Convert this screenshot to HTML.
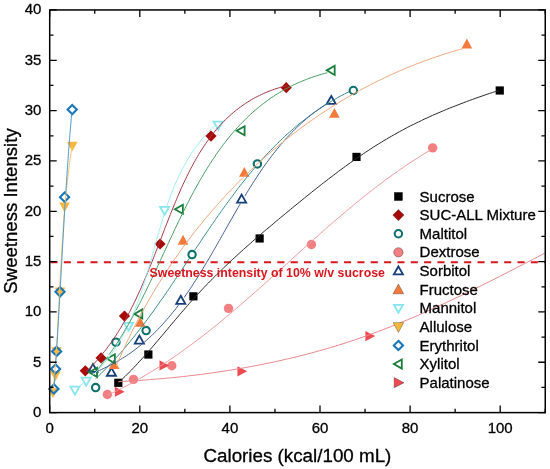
<!DOCTYPE html>
<html><head><meta charset="utf-8"><style>html,body{margin:0;padding:0;background:#fff;}svg{display:block;filter:blur(0.3px);}</style></head><body>
<svg width="550" height="469" viewBox="0 0 550 469">
<rect width="550" height="469" fill="#fff"/>
<line x1="50.46" y1="262.3" x2="545.25" y2="262.3" stroke="#d9161d" stroke-width="2" stroke-dasharray="7.1 6.244"/>
<rect x="114.21" y="378.70" width="8.2" height="8.2" fill="#000000"/>
<rect x="144.26" y="350.42" width="8.2" height="8.2" fill="#000000"/>
<rect x="189.31" y="292.24" width="8.2" height="8.2" fill="#000000"/>
<rect x="255.53" y="234.36" width="8.2" height="8.2" fill="#000000"/>
<rect x="352.39" y="152.82" width="8.2" height="8.2" fill="#000000"/>
<rect x="495.65" y="86.39" width="8.2" height="8.2" fill="#000000"/>
<polygon points="85.29,365.23 90.89,370.83 85.29,376.43 79.69,370.83" fill="#a80a0a"/>
<polygon points="101.06,352.34 106.66,357.94 101.06,363.54 95.46,357.94" fill="#a80a0a"/>
<polygon points="124.48,310.47 130.08,316.07 124.48,321.67 118.88,316.07" fill="#a80a0a"/>
<polygon points="160.07,238.39 165.67,243.99 160.07,249.59 154.47,243.99" fill="#a80a0a"/>
<polygon points="210.98,130.49 216.58,136.09 210.98,141.69 205.38,136.09" fill="#a80a0a"/>
<polygon points="286.21,82.07 291.81,87.67 286.21,93.27 280.61,87.67" fill="#a80a0a"/>
<circle cx="95.65" cy="387.54" r="3.7" fill="none" stroke="#0e716c" stroke-width="2.1"/>
<circle cx="115.92" cy="342.14" r="3.7" fill="none" stroke="#0e716c" stroke-width="2.1"/>
<circle cx="146.11" cy="330.56" r="3.7" fill="none" stroke="#0e716c" stroke-width="2.1"/>
<circle cx="192.06" cy="254.56" r="3.7" fill="none" stroke="#0e716c" stroke-width="2.1"/>
<circle cx="257.38" cy="163.97" r="3.7" fill="none" stroke="#0e716c" stroke-width="2.1"/>
<circle cx="353.34" cy="90.49" r="3.7" fill="none" stroke="#0e716c" stroke-width="2.1"/>
<circle cx="107.36" cy="394.48" r="4.7" fill="#f27f82"/>
<circle cx="133.49" cy="379.38" r="4.7" fill="#f27f82"/>
<circle cx="171.79" cy="365.79" r="4.7" fill="#f27f82"/>
<circle cx="228.55" cy="308.42" r="4.7" fill="#f27f82"/>
<circle cx="311.44" cy="244.50" r="4.7" fill="#f27f82"/>
<circle cx="432.62" cy="147.86" r="4.7" fill="#f27f82"/>
<polygon points="92.95,363.96 97.50,371.92 88.40,371.92" fill="none" stroke="#163f7a" stroke-width="1.8" stroke-linejoin="miter"/>
<polygon points="111.42,367.79 115.97,375.75 106.87,375.75" fill="none" stroke="#163f7a" stroke-width="1.8" stroke-linejoin="miter"/>
<polygon points="139.35,335.57 143.90,343.54 134.80,343.54" fill="none" stroke="#163f7a" stroke-width="1.8" stroke-linejoin="miter"/>
<polygon points="180.80,295.81 185.35,303.78 176.25,303.78" fill="none" stroke="#163f7a" stroke-width="1.8" stroke-linejoin="miter"/>
<polygon points="241.61,194.65 246.16,202.61 237.06,202.61" fill="none" stroke="#163f7a" stroke-width="1.8" stroke-linejoin="miter"/>
<polygon points="331.26,96.00 335.81,103.97 326.71,103.97" fill="none" stroke="#163f7a" stroke-width="1.8" stroke-linejoin="miter"/>
<polygon points="114.12,359.19 119.42,368.99 108.82,368.99" fill="#f47a3c"/>
<polygon points="140.25,316.91 145.55,326.71 134.95,326.71" fill="#f47a3c"/>
<polygon points="183.05,234.87 188.35,244.67 177.75,244.67" fill="#f47a3c"/>
<polygon points="244.32,166.93 249.62,176.73 239.02,176.73" fill="#f47a3c"/>
<polygon points="334.42,108.04 339.72,117.84 329.12,117.84" fill="#f47a3c"/>
<polygon points="466.86,38.58 472.16,48.38 461.56,48.38" fill="#f47a3c"/>
<polygon points="74.93,394.60 79.48,386.64 70.38,386.64" fill="none" stroke="#86e6ec" stroke-width="1.8" stroke-linejoin="miter"/>
<polygon points="86.19,385.64 90.74,377.68 81.64,377.68" fill="none" stroke="#86e6ec" stroke-width="1.8" stroke-linejoin="miter"/>
<polygon points="128.54,330.78 133.09,322.82 123.99,322.82" fill="none" stroke="#86e6ec" stroke-width="1.8" stroke-linejoin="miter"/>
<polygon points="164.58,214.82 169.13,206.86 160.03,206.86" fill="none" stroke="#86e6ec" stroke-width="1.8" stroke-linejoin="miter"/>
<polygon points="218.19,129.67 222.74,121.70 213.64,121.70" fill="none" stroke="#86e6ec" stroke-width="1.8" stroke-linejoin="miter"/>
<polygon points="52.99,398.07 58.29,388.27 47.69,388.27" fill="#f6b73c"/>
<polygon points="55.42,381.16 60.72,371.36 50.12,371.36" fill="#f6b73c"/>
<polygon points="56.64,357.00 61.94,347.20 51.34,347.20" fill="#f6b73c"/>
<polygon points="60.02,297.41 65.32,287.61 54.72,287.61" fill="#f6b73c"/>
<polygon points="64.57,212.35 69.87,202.55 59.27,202.55" fill="#f6b73c"/>
<polygon points="72.22,151.45 77.52,141.65 66.92,141.65" fill="#f6b73c"/>
<polygon points="53.93,384.34 58.53,388.94 53.93,393.54 49.33,388.94" fill="none" stroke="#1a76b8" stroke-width="2.1"/>
<polygon points="55.56,364.41 60.16,369.01 55.56,373.61 50.96,369.01" fill="none" stroke="#1a76b8" stroke-width="2.1"/>
<polygon points="56.64,346.80 61.24,351.40 56.64,356.00 52.04,351.40" fill="none" stroke="#1a76b8" stroke-width="2.1"/>
<polygon points="60.02,287.21 64.62,291.81 60.02,296.41 55.42,291.81" fill="none" stroke="#1a76b8" stroke-width="2.1"/>
<polygon points="64.57,192.59 69.17,197.19 64.57,201.79 59.97,197.19" fill="none" stroke="#1a76b8" stroke-width="2.1"/>
<polygon points="72.22,105.01 76.82,109.61 72.22,114.21 67.62,109.61" fill="none" stroke="#1a76b8" stroke-width="2.1"/>
<polygon points="89.07,372.34 97.04,367.79 97.04,376.89" fill="none" stroke="#1b7d3c" stroke-width="1.8" stroke-linejoin="miter"/>
<polygon points="106.87,358.75 114.83,354.20 114.83,363.30" fill="none" stroke="#1b7d3c" stroke-width="1.8" stroke-linejoin="miter"/>
<polygon points="134.35,313.95 142.31,309.40 142.31,318.50" fill="none" stroke="#1b7d3c" stroke-width="1.8" stroke-linejoin="miter"/>
<polygon points="174.89,209.27 182.86,204.72 182.86,213.82" fill="none" stroke="#1b7d3c" stroke-width="1.8" stroke-linejoin="miter"/>
<polygon points="236.61,130.75 244.58,126.20 244.58,135.30" fill="none" stroke="#1b7d3c" stroke-width="1.8" stroke-linejoin="miter"/>
<polygon points="326.71,70.36 334.68,65.81 334.68,74.91" fill="none" stroke="#1b7d3c" stroke-width="1.8" stroke-linejoin="miter"/>
<polygon points="124.68,391.76 114.88,386.66 114.88,396.86" fill="#ef4a52"/>
<polygon points="169.28,365.39 159.48,360.29 159.48,370.49" fill="#ef4a52"/>
<polygon points="247.21,371.33 237.41,366.23 237.41,376.43" fill="#ef4a52"/>
<polygon points="375.16,336.10 365.36,331.00 365.36,341.20" fill="#ef4a52"/>
<g fill="none" stroke-width="1">
<path d="M118.4,382.8 L120.6,380.7 L122.8,378.6 L125.0,376.5 L127.2,374.3 L129.3,372.2 L131.5,370.0 L133.6,367.8 L135.7,365.6 L137.7,363.4 L139.8,361.1 L141.9,358.9 L143.9,356.6 L145.9,354.3 L147.9,352.0 L150.0,349.7 L152.0,347.4 L154.0,345.1 L155.9,342.8 L157.9,340.5 L159.9,338.1 L161.9,335.8 L163.8,333.5 L165.8,331.1 L167.8,328.8 L169.7,326.4 L171.7,324.1 L173.7,321.7 L175.6,319.4 L177.6,317.1 L179.6,314.7 L181.6,312.4 L183.6,310.1 L185.6,307.8 L187.6,305.5 L189.6,303.2 L191.6,300.9 L193.7,298.6 L195.7,296.4 L197.8,294.1 L199.9,291.9 L202.0,289.7 L204.1,287.4 L206.2,285.2 L208.3,283.1 L210.5,280.9 L212.6,278.7 L214.8,276.6 L216.9,274.4 L219.1,272.3 L221.3,270.1 L223.5,268.0 L225.7,265.9 L227.9,263.8 L230.1,261.7 L232.4,259.6 L234.6,257.6 L236.9,255.5 L239.1,253.4 L241.4,251.4 L243.7,249.3 L245.9,247.3 L248.2,245.3 L250.5,243.3 L252.8,241.2 L255.1,239.2 L257.4,237.2 L259.7,235.2 L262.1,233.2 L264.4,231.2 L266.7,229.2 L269.1,227.3 L271.4,225.3 L273.8,223.3 L276.1,221.3 L278.5,219.4 L280.8,217.4 L283.2,215.5 L285.5,213.5 L287.9,211.6 L290.3,209.6 L292.6,207.7 L295.0,205.7 L297.4,203.8 L299.8,201.8 L302.1,199.9 L304.5,198.0 L306.9,196.0 L309.3,194.1 L311.7,192.2 L314.1,190.3 L316.5,188.4 L318.9,186.5 L321.3,184.6 L323.7,182.7 L326.2,180.8 L328.6,178.9 L331.0,177.1 L333.5,175.2 L335.9,173.4 L338.3,171.5 L340.8,169.7 L343.3,167.9 L345.7,166.1 L348.2,164.3 L350.7,162.5 L353.2,160.8 L355.7,159.0 L358.2,157.3 L360.7,155.6 L363.3,153.8 L365.8,152.1 L368.3,150.5 L370.9,148.8 L373.4,147.1 L376.0,145.5 L378.6,143.9 L381.2,142.3 L383.8,140.7 L386.4,139.2 L389.0,137.6 L391.7,136.1 L394.3,134.6 L397.0,133.1 L399.6,131.6 L402.3,130.2 L405.0,128.7 L407.7,127.3 L410.4,125.9 L413.2,124.6 L415.9,123.2 L418.6,121.9 L421.4,120.6 L424.1,119.2 L426.9,118.0 L429.7,116.7 L432.5,115.4 L435.3,114.2 L438.1,113.0 L440.9,111.8 L443.7,110.6 L446.5,109.4 L449.4,108.2 L452.2,107.1 L455.1,106.0 L457.9,104.9 L460.8,103.8 L463.7,102.7 L466.5,101.6 L469.4,100.5 L472.3,99.5 L475.2,98.4 L478.1,97.4 L481.0,96.4 L483.9,95.4 L486.8,94.4 L489.7,93.4 L492.6,92.5 L495.6,91.5 L498.5,90.6" stroke="#2a2a2a"/>
<path d="M86.3,371.5 L87.9,369.9 L89.5,368.3 L91.1,366.7 L92.7,365.1 L94.2,363.5 L95.7,361.8 L97.2,360.2 L98.7,358.5 L100.1,356.8 L101.5,355.1 L102.9,353.4 L104.3,351.6 L105.7,349.9 L107.0,348.1 L108.4,346.3 L109.7,344.5 L111.0,342.7 L112.2,340.9 L113.5,339.1 L114.7,337.2 L116.0,335.4 L117.2,333.5 L118.4,331.6 L119.5,329.7 L120.7,327.8 L121.8,325.9 L123.0,323.9 L124.1,322.0 L125.2,320.1 L126.3,318.1 L127.3,316.1 L128.4,314.1 L129.5,312.2 L130.5,310.2 L131.5,308.1 L132.5,306.1 L133.5,304.1 L134.5,302.1 L135.5,300.0 L136.5,298.0 L137.4,295.9 L138.4,293.9 L139.3,291.8 L140.3,289.7 L141.2,287.6 L142.1,285.5 L143.0,283.4 L143.9,281.3 L144.8,279.2 L145.7,277.1 L146.6,275.0 L147.5,272.9 L148.4,270.7 L149.2,268.6 L150.1,266.5 L151.0,264.3 L151.8,262.2 L152.7,260.0 L153.5,257.9 L154.4,255.7 L155.2,253.5 L156.0,251.4 L156.9,249.2 L157.7,247.1 L158.6,244.9 L159.4,242.7 L160.2,240.6 L161.1,238.4 L161.9,236.2 L162.7,234.0 L163.6,231.9 L164.4,229.7 L165.2,227.5 L166.1,225.4 L166.9,223.2 L167.8,221.0 L168.6,218.8 L169.5,216.7 L170.3,214.5 L171.2,212.3 L172.1,210.2 L172.9,208.0 L173.8,205.9 L174.7,203.7 L175.6,201.6 L176.5,199.4 L177.4,197.3 L178.3,195.2 L179.2,193.1 L180.1,191.0 L181.0,188.8 L182.0,186.7 L182.9,184.7 L183.9,182.6 L184.9,180.5 L185.9,178.4 L186.9,176.4 L187.9,174.3 L188.9,172.3 L189.9,170.3 L190.9,168.3 L192.0,166.3 L193.1,164.3 L194.2,162.3 L195.3,160.4 L196.4,158.4 L197.5,156.5 L198.6,154.5 L199.8,152.6 L201.0,150.8 L202.2,148.9 L203.4,147.0 L204.6,145.2 L205.8,143.4 L207.1,141.6 L208.4,139.8 L209.7,138.0 L211.0,136.2 L212.3,134.5 L213.7,132.8 L215.1,131.1 L216.5,129.4 L217.9,127.8 L219.3,126.1 L220.8,124.5 L222.3,122.9 L223.8,121.4 L225.3,119.8 L226.9,118.3 L228.5,116.8 L230.1,115.4 L231.7,113.9 L233.4,112.5 L235.1,111.1 L236.8,109.7 L238.5,108.4 L240.3,107.1 L242.1,105.8 L243.9,104.5 L245.7,103.3 L247.6,102.1 L249.5,100.9 L251.4,99.7 L253.4,98.6 L255.4,97.5 L257.4,96.5 L259.5,95.4 L261.6,94.4 L263.7,93.5 L265.8,92.5 L268.0,91.6 L270.2,90.8 L272.5,89.9 L274.8,89.1 L277.1,88.4 L279.5,87.6 L281.8,86.9 L284.3,86.3 L286.7,85.7" stroke="#a03a44"/>
<mask id="gap_mal" maskUnits="userSpaceOnUse" x="0" y="0" width="550" height="469"><rect width="550" height="469" fill="#fff"/><circle cx="95.65" cy="387.54" r="4.6" fill="#000"/><circle cx="115.92" cy="342.14" r="4.6" fill="#000"/><circle cx="146.11" cy="330.56" r="4.6" fill="#000"/><circle cx="192.06" cy="254.56" r="4.6" fill="#000"/><circle cx="257.38" cy="163.97" r="4.6" fill="#000"/><circle cx="353.34" cy="90.49" r="4.6" fill="#000"/></mask>
<path d="M95.7,378.6 L97.5,377.0 L99.2,375.3 L101.0,373.6 L102.7,371.9 L104.4,370.2 L106.1,368.4 L107.8,366.7 L109.5,364.9 L111.2,363.2 L112.8,361.4 L114.5,359.6 L116.1,357.8 L117.7,356.0 L119.4,354.2 L121.0,352.4 L122.6,350.5 L124.1,348.7 L125.7,346.8 L127.3,344.9 L128.9,343.1 L130.4,341.2 L131.9,339.3 L133.5,337.4 L135.0,335.5 L136.5,333.5 L138.0,331.6 L139.5,329.7 L141.0,327.7 L142.5,325.8 L144.0,323.8 L145.5,321.9 L147.0,319.9 L148.4,317.9 L149.9,315.9 L151.3,313.9 L152.8,312.0 L154.2,310.0 L155.6,307.9 L157.1,305.9 L158.5,303.9 L159.9,301.9 L161.3,299.9 L162.8,297.8 L164.2,295.8 L165.6,293.8 L167.0,291.7 L168.4,289.7 L169.8,287.6 L171.2,285.6 L172.5,283.5 L173.9,281.5 L175.3,279.4 L176.7,277.4 L178.1,275.3 L179.5,273.2 L180.8,271.2 L182.2,269.1 L183.6,267.0 L185.0,265.0 L186.3,262.9 L187.7,260.8 L189.1,258.8 L190.5,256.7 L191.8,254.6 L193.2,252.6 L194.6,250.5 L195.9,248.4 L197.3,246.3 L198.7,244.3 L200.1,242.2 L201.5,240.2 L202.8,238.1 L204.2,236.0 L205.6,234.0 L207.0,231.9 L208.4,229.9 L209.8,227.8 L211.2,225.8 L212.6,223.7 L214.0,221.7 L215.4,219.6 L216.8,217.6 L218.2,215.6 L219.7,213.6 L221.1,211.5 L222.5,209.5 L223.9,207.5 L225.4,205.5 L226.8,203.5 L228.3,201.5 L229.7,199.5 L231.2,197.6 L232.7,195.6 L234.2,193.6 L235.6,191.6 L237.1,189.7 L238.6,187.7 L240.1,185.8 L241.6,183.9 L243.2,181.9 L244.7,180.0 L246.2,178.1 L247.8,176.2 L249.3,174.3 L250.9,172.4 L252.4,170.6 L254.0,168.7 L255.6,166.8 L257.2,165.0 L258.8,163.1 L260.4,161.3 L262.1,159.5 L263.7,157.7 L265.4,155.9 L267.0,154.1 L268.7,152.3 L270.4,150.6 L272.1,148.8 L273.8,147.1 L275.5,145.3 L277.2,143.6 L279.0,141.9 L280.7,140.2 L282.5,138.6 L284.2,136.9 L286.0,135.2 L287.8,133.6 L289.7,132.0 L291.5,130.4 L293.3,128.8 L295.2,127.2 L297.1,125.6 L299.0,124.0 L300.9,122.5 L302.8,121.0 L304.7,119.5 L306.7,118.0 L308.6,116.5 L310.6,115.0 L312.6,113.6 L314.6,112.2 L316.7,110.7 L318.7,109.3 L320.8,108.0 L322.9,106.6 L325.0,105.2 L327.1,103.9 L329.2,102.6 L331.4,101.3 L333.5,100.0 L335.7,98.8 L337.9,97.5 L340.1,96.3 L342.4,95.1 L344.6,93.9 L346.9,92.8 L349.2,91.6 L351.5,90.5 L353.9,89.4" stroke="#3a8a86" mask="url(#gap_mal)"/>
<path d="M107.7,395.1 L110.0,394.0 L112.3,392.9 L114.7,391.8 L117.0,390.6 L119.3,389.5 L121.6,388.3 L123.9,387.2 L126.2,386.0 L128.4,384.8 L130.7,383.6 L132.9,382.4 L135.2,381.1 L137.4,379.9 L139.6,378.6 L141.9,377.3 L144.1,376.1 L146.3,374.8 L148.4,373.4 L150.6,372.1 L152.8,370.8 L155.0,369.5 L157.1,368.1 L159.3,366.7 L161.4,365.4 L163.6,364.0 L165.7,362.6 L167.8,361.2 L169.9,359.7 L172.0,358.3 L174.1,356.9 L176.2,355.4 L178.3,354.0 L180.4,352.5 L182.5,351.0 L184.5,349.5 L186.6,348.0 L188.7,346.5 L190.7,345.0 L192.8,343.5 L194.8,342.0 L196.8,340.4 L198.9,338.9 L200.9,337.4 L202.9,335.8 L204.9,334.2 L206.9,332.7 L208.9,331.1 L210.9,329.5 L212.9,327.9 L214.9,326.3 L216.9,324.7 L218.9,323.1 L220.9,321.5 L222.8,319.8 L224.8,318.2 L226.8,316.6 L228.7,314.9 L230.7,313.3 L232.6,311.6 L234.6,310.0 L236.5,308.3 L238.5,306.7 L240.4,305.0 L242.3,303.3 L244.3,301.6 L246.2,300.0 L248.1,298.3 L250.1,296.6 L252.0,294.9 L253.9,293.2 L255.8,291.5 L257.8,289.8 L259.7,288.1 L261.6,286.4 L263.5,284.7 L265.4,283.0 L267.3,281.3 L269.2,279.5 L271.1,277.8 L273.1,276.1 L275.0,274.4 L276.9,272.7 L278.8,271.0 L280.7,269.2 L282.6,267.5 L284.5,265.8 L286.4,264.1 L288.3,262.3 L290.2,260.6 L292.1,258.9 L294.0,257.2 L295.9,255.5 L297.8,253.7 L299.7,252.0 L301.6,250.3 L303.5,248.6 L305.4,246.9 L307.3,245.1 L309.3,243.4 L311.2,241.7 L313.1,240.0 L315.0,238.3 L316.9,236.6 L318.8,234.9 L320.7,233.2 L322.7,231.5 L324.6,229.8 L326.5,228.1 L328.4,226.4 L330.4,224.7 L332.3,223.1 L334.2,221.4 L336.2,219.7 L338.1,218.0 L340.1,216.4 L342.0,214.7 L344.0,213.1 L345.9,211.4 L347.9,209.8 L349.8,208.1 L351.8,206.5 L353.8,204.9 L355.8,203.2 L357.7,201.6 L359.7,200.0 L361.7,198.4 L363.7,196.8 L365.7,195.2 L367.7,193.6 L369.7,192.1 L371.7,190.5 L373.7,188.9 L375.7,187.4 L377.8,185.8 L379.8,184.3 L381.8,182.8 L383.9,181.2 L385.9,179.7 L388.0,178.2 L390.0,176.7 L392.1,175.2 L394.2,173.7 L396.2,172.3 L398.3,170.8 L400.4,169.3 L402.5,167.9 L404.6,166.5 L406.7,165.0 L408.8,163.6 L411.0,162.2 L413.1,160.8 L415.2,159.4 L417.4,158.1 L419.5,156.7 L421.7,155.3 L423.9,154.0 L426.0,152.7 L428.2,151.3 L430.4,150.0" stroke="#eb9a9c"/>
<mask id="gap_sor" maskUnits="userSpaceOnUse" x="0" y="0" width="550" height="469"><rect width="550" height="469" fill="#fff"/><circle cx="92.95" cy="368.51" r="4.6" fill="#000"/><circle cx="111.42" cy="372.34" r="4.6" fill="#000"/><circle cx="139.35" cy="340.12" r="4.6" fill="#000"/><circle cx="180.80" cy="300.36" r="4.6" fill="#000"/><circle cx="241.61" cy="199.20" r="4.6" fill="#000"/><circle cx="331.26" cy="100.55" r="4.6" fill="#000"/></mask>
<path d="M92.5,373.1 L94.8,372.2 L97.1,371.3 L99.4,370.4 L101.6,369.4 L103.8,368.4 L106.0,367.3 L108.2,366.3 L110.3,365.2 L112.4,364.1 L114.5,363.0 L116.5,361.8 L118.6,360.6 L120.6,359.4 L122.6,358.2 L124.5,357.0 L126.5,355.7 L128.4,354.4 L130.3,353.1 L132.1,351.8 L134.0,350.4 L135.8,349.0 L137.6,347.6 L139.4,346.2 L141.2,344.8 L142.9,343.3 L144.7,341.9 L146.4,340.4 L148.1,338.8 L149.7,337.3 L151.4,335.8 L153.0,334.2 L154.7,332.6 L156.3,331.0 L157.8,329.4 L159.4,327.8 L161.0,326.1 L162.5,324.5 L164.0,322.8 L165.5,321.1 L167.0,319.4 L168.5,317.7 L170.0,315.9 L171.4,314.2 L172.8,312.4 L174.3,310.6 L175.7,308.8 L177.1,307.0 L178.4,305.2 L179.8,303.4 L181.2,301.6 L182.5,299.7 L183.9,297.9 L185.2,296.0 L186.5,294.1 L187.8,292.2 L189.1,290.3 L190.4,288.4 L191.7,286.5 L192.9,284.5 L194.2,282.6 L195.5,280.7 L196.7,278.7 L197.9,276.8 L199.2,274.8 L200.4,272.8 L201.6,270.8 L202.8,268.8 L204.0,266.8 L205.2,264.8 L206.4,262.8 L207.6,260.8 L208.8,258.8 L210.0,256.8 L211.2,254.8 L212.3,252.7 L213.5,250.7 L214.7,248.7 L215.8,246.6 L217.0,244.6 L218.2,242.6 L219.3,240.5 L220.5,238.5 L221.6,236.4 L222.8,234.4 L223.9,232.3 L225.1,230.3 L226.3,228.2 L227.4,226.2 L228.6,224.1 L229.7,222.1 L230.9,220.0 L232.1,218.0 L233.2,216.0 L234.4,213.9 L235.6,211.9 L236.7,209.8 L237.9,207.8 L239.1,205.8 L240.3,203.8 L241.5,201.7 L242.7,199.7 L243.9,197.7 L245.1,195.7 L246.3,193.7 L247.5,191.7 L248.7,189.7 L250.0,187.7 L251.2,185.8 L252.4,183.8 L253.7,181.8 L255.0,179.9 L256.2,177.9 L257.5,176.0 L258.8,174.0 L260.1,172.1 L261.4,170.2 L262.7,168.3 L264.0,166.4 L265.4,164.5 L266.7,162.6 L268.1,160.8 L269.5,158.9 L270.8,157.1 L272.2,155.3 L273.6,153.4 L275.1,151.6 L276.5,149.8 L278.0,148.0 L279.4,146.3 L280.9,144.5 L282.4,142.8 L283.9,141.1 L285.4,139.3 L287.0,137.6 L288.5,136.0 L290.1,134.3 L291.7,132.6 L293.3,131.0 L294.9,129.4 L296.5,127.8 L298.2,126.2 L299.9,124.6 L301.5,123.1 L303.3,121.5 L305.0,120.0 L306.7,118.5 L308.5,117.0 L310.3,115.6 L312.1,114.1 L313.9,112.7 L315.8,111.3 L317.7,109.9 L319.6,108.5 L321.5,107.2 L323.4,105.9 L325.4,104.6 L327.4,103.3 L329.4,102.1 L331.4,100.8" stroke="#3f5f92" mask="url(#gap_sor)"/>
<path d="M116.3,366.0 L117.5,363.2 L118.7,360.4 L119.9,357.6 L121.1,354.9 L122.3,352.1 L123.6,349.4 L124.8,346.6 L126.1,343.9 L127.4,341.1 L128.7,338.4 L130.0,335.7 L131.3,332.9 L132.7,330.2 L134.0,327.5 L135.4,324.8 L136.8,322.1 L138.2,319.4 L139.6,316.8 L141.0,314.1 L142.5,311.4 L143.9,308.8 L145.4,306.1 L146.9,303.5 L148.4,300.8 L149.9,298.2 L151.5,295.6 L153.0,292.9 L154.6,290.3 L156.1,287.7 L157.7,285.1 L159.3,282.6 L160.9,280.0 L162.5,277.4 L164.2,274.9 L165.8,272.3 L167.5,269.8 L169.2,267.2 L170.9,264.7 L172.6,262.2 L174.3,259.7 L176.0,257.2 L177.8,254.7 L179.6,252.2 L181.3,249.7 L183.1,247.3 L184.9,244.8 L186.7,242.4 L188.6,239.9 L190.4,237.5 L192.2,235.1 L194.1,232.7 L196.0,230.3 L197.9,227.9 L199.8,225.5 L201.7,223.1 L203.6,220.8 L205.6,218.4 L207.5,216.1 L209.5,213.8 L211.5,211.4 L213.5,209.1 L215.5,206.8 L217.5,204.6 L219.5,202.3 L221.5,200.0 L223.6,197.8 L225.7,195.5 L227.7,193.3 L229.8,191.1 L231.9,188.9 L234.1,186.7 L236.2,184.5 L238.3,182.3 L240.5,180.2 L242.6,178.0 L244.8,175.9 L247.0,173.8 L249.2,171.6 L251.4,169.5 L253.6,167.5 L255.9,165.4 L258.1,163.3 L260.4,161.3 L262.6,159.2 L264.9,157.2 L267.2,155.2 L269.5,153.2 L271.8,151.2 L274.1,149.2 L276.5,147.3 L278.8,145.3 L281.2,143.4 L283.5,141.5 L285.9,139.5 L288.3,137.7 L290.7,135.8 L293.1,133.9 L295.6,132.1 L298.0,130.2 L300.4,128.4 L302.9,126.6 L305.4,124.8 L307.8,123.0 L310.3,121.2 L312.8,119.5 L315.3,117.7 L317.9,116.0 L320.4,114.3 L322.9,112.6 L325.5,110.9 L328.1,109.3 L330.6,107.6 L333.2,106.0 L335.8,104.4 L338.4,102.8 L341.0,101.2 L343.7,99.6 L346.3,98.0 L348.9,96.5 L351.6,95.0 L354.3,93.5 L356.9,92.0 L359.6,90.5 L362.3,89.0 L365.0,87.6 L367.7,86.2 L370.5,84.7 L373.2,83.3 L375.9,82.0 L378.7,80.6 L381.5,79.3 L384.2,77.9 L387.0,76.6 L389.8,75.3 L392.6,74.0 L395.4,72.8 L398.2,71.5 L401.1,70.3 L403.9,69.1 L406.7,67.9 L409.6,66.7 L412.5,65.6 L415.3,64.4 L418.2,63.3 L421.1,62.2 L424.0,61.1 L426.9,60.1 L429.8,59.0 L432.8,58.0 L435.7,57.0 L438.7,56.0 L441.6,55.0 L444.6,54.0 L447.6,53.1 L450.5,52.2 L453.5,51.3 L456.5,50.4 L459.5,49.6 L462.5,48.7" stroke="#eea87c"/>
<mask id="gap_man" maskUnits="userSpaceOnUse" x="0" y="0" width="550" height="469"><rect width="550" height="469" fill="#fff"/><circle cx="74.93" cy="390.05" r="3.6" fill="#000"/><circle cx="86.19" cy="381.09" r="3.6" fill="#000"/><circle cx="128.54" cy="326.23" r="3.6" fill="#000"/><circle cx="164.58" cy="210.27" r="3.6" fill="#000"/><circle cx="218.19" cy="125.12" r="3.6" fill="#000"/></mask>
<path d="M73.9,390.0 L75.7,388.8 L77.4,387.6 L79.1,386.4 L80.8,385.1 L82.4,383.9 L84.1,382.6 L85.7,381.3 L87.2,380.0 L88.8,378.7 L90.3,377.3 L91.8,376.0 L93.3,374.6 L94.7,373.3 L96.1,371.9 L97.5,370.5 L98.9,369.0 L100.2,367.6 L101.5,366.2 L102.8,364.7 L104.1,363.2 L105.4,361.7 L106.6,360.2 L107.8,358.7 L109.0,357.2 L110.1,355.7 L111.3,354.1 L112.4,352.6 L113.5,351.0 L114.6,349.4 L115.6,347.8 L116.7,346.2 L117.7,344.6 L118.7,343.0 L119.7,341.3 L120.6,339.7 L121.6,338.1 L122.5,336.4 L123.4,334.7 L124.3,333.0 L125.2,331.3 L126.1,329.6 L126.9,327.9 L127.8,326.2 L128.6,324.5 L129.4,322.8 L130.2,321.0 L131.0,319.3 L131.7,317.5 L132.5,315.8 L133.2,314.0 L133.9,312.2 L134.7,310.4 L135.4,308.6 L136.1,306.8 L136.7,305.0 L137.4,303.2 L138.1,301.4 L138.7,299.6 L139.4,297.8 L140.0,296.0 L140.6,294.1 L141.2,292.3 L141.9,290.4 L142.5,288.6 L143.1,286.7 L143.6,284.9 L144.2,283.0 L144.8,281.2 L145.4,279.3 L145.9,277.4 L146.5,275.6 L147.0,273.7 L147.6,271.8 L148.1,269.9 L148.7,268.1 L149.2,266.2 L149.8,264.3 L150.3,262.4 L150.8,260.5 L151.4,258.6 L151.9,256.8 L152.4,254.9 L152.9,253.0 L153.5,251.1 L154.0,249.2 L154.5,247.3 L155.0,245.4 L155.6,243.5 L156.1,241.6 L156.6,239.8 L157.2,237.9 L157.7,236.0 L158.2,234.1 L158.8,232.2 L159.3,230.3 L159.9,228.5 L160.4,226.6 L161.0,224.7 L161.5,222.8 L162.1,221.0 L162.7,219.1 L163.3,217.3 L163.8,215.4 L164.4,213.5 L165.0,211.7 L165.6,209.9 L166.2,208.0 L166.9,206.2 L167.5,204.3 L168.1,202.5 L168.8,200.7 L169.4,198.9 L170.1,197.1 L170.8,195.3 L171.5,193.5 L172.2,191.7 L172.9,189.9 L173.6,188.1 L174.3,186.3 L175.1,184.6 L175.8,182.8 L176.6,181.1 L177.4,179.3 L178.2,177.6 L179.0,175.8 L179.8,174.1 L180.7,172.4 L181.5,170.7 L182.4,169.0 L183.3,167.3 L184.2,165.7 L185.1,164.0 L186.1,162.3 L187.0,160.7 L188.0,159.0 L189.0,157.4 L190.0,155.8 L191.0,154.2 L192.1,152.6 L193.1,151.0 L194.2,149.4 L195.3,147.9 L196.5,146.3 L197.6,144.8 L198.8,143.2 L200.0,141.7 L201.2,140.2 L202.4,138.7 L203.7,137.2 L205.0,135.8 L206.3,134.3 L207.6,132.9 L208.9,131.4 L210.3,130.0 L211.7,128.6 L213.2,127.2 L214.6,125.9 L216.1,124.5 L217.6,123.2" stroke="#9feaf0" mask="url(#gap_man)"/>
<path d="M53.1,391.5 L53.2,390.0 L53.4,388.4 L53.5,386.9 L53.6,385.3 L53.8,383.8 L53.9,382.2 L54.0,380.7 L54.2,379.2 L54.3,377.6 L54.4,376.1 L54.6,374.5 L54.7,373.0 L54.8,371.4 L54.9,369.9 L55.0,368.3 L55.2,366.8 L55.3,365.3 L55.4,363.7 L55.5,362.2 L55.6,360.6 L55.7,359.1 L55.8,357.5 L55.9,356.0 L56.0,354.4 L56.1,352.9 L56.3,351.3 L56.4,349.8 L56.5,348.3 L56.6,346.7 L56.6,345.2 L56.7,343.6 L56.8,342.1 L56.9,340.5 L57.0,339.0 L57.1,337.4 L57.2,335.9 L57.3,334.3 L57.4,332.8 L57.5,331.2 L57.6,329.7 L57.6,328.1 L57.7,326.6 L57.8,325.0 L57.9,323.5 L58.0,321.9 L58.1,320.4 L58.1,318.9 L58.2,317.3 L58.3,315.8 L58.4,314.2 L58.5,312.7 L58.5,311.1 L58.6,309.6 L58.7,308.0 L58.8,306.5 L58.9,304.9 L58.9,303.4 L59.0,301.8 L59.1,300.3 L59.2,298.7 L59.2,297.2 L59.3,295.6 L59.4,294.1 L59.5,292.5 L59.6,291.0 L59.6,289.4 L59.7,287.9 L59.8,286.3 L59.9,284.8 L59.9,283.2 L60.0,281.7 L60.1,280.1 L60.2,278.6 L60.3,277.0 L60.3,275.5 L60.4,273.9 L60.5,272.4 L60.6,270.8 L60.7,269.3 L60.7,267.7 L60.8,266.2 L60.9,264.7 L61.0,263.1 L61.1,261.6 L61.2,260.0 L61.3,258.5 L61.3,256.9 L61.4,255.4 L61.5,253.8 L61.6,252.3 L61.7,250.7 L61.8,249.2 L61.9,247.6 L62.0,246.1 L62.1,244.5 L62.2,243.0 L62.3,241.4 L62.4,239.9 L62.5,238.3 L62.6,236.8 L62.7,235.3 L62.8,233.7 L62.9,232.2 L63.0,230.6 L63.1,229.1 L63.2,227.5 L63.3,226.0 L63.4,224.4 L63.5,222.9 L63.7,221.3 L63.8,219.8 L63.9,218.3 L64.0,216.7 L64.1,215.2 L64.3,213.6 L64.4,212.1 L64.5,210.5 L64.7,209.0 L64.8,207.4 L64.9,205.9 L65.1,204.4 L65.2,202.8 L65.3,201.3 L65.5,199.7 L65.6,198.2 L65.8,196.6 L65.9,195.1 L66.1,193.6 L66.2,192.0 L66.4,190.5 L66.5,188.9 L66.7,187.4 L66.9,185.9 L67.0,184.3 L67.2,182.8 L67.4,181.2 L67.6,179.7 L67.7,178.2 L67.9,176.6 L68.1,175.1 L68.3,173.5 L68.5,172.0 L68.7,170.5 L68.9,168.9 L69.0,167.4 L69.2,165.9 L69.4,164.3 L69.7,162.8 L69.9,161.2 L70.1,159.7 L70.3,158.2 L70.5,156.6 L70.7,155.1 L71.0,153.6 L71.2,152.0 L71.4,150.5 L71.6,149.0 L71.9,147.4 L72.1,145.9" stroke="#f3c565"/>
<mask id="gap_ery" maskUnits="userSpaceOnUse" x="0" y="0" width="550" height="469"><rect width="550" height="469" fill="#fff"/><circle cx="53.93" cy="388.94" r="4.6" fill="#000"/><circle cx="55.56" cy="369.01" r="4.6" fill="#000"/><circle cx="56.64" cy="351.40" r="4.6" fill="#000"/><circle cx="60.02" cy="291.81" r="4.6" fill="#000"/><circle cx="64.57" cy="197.19" r="4.6" fill="#000"/><circle cx="72.22" cy="109.61" r="4.6" fill="#000"/></mask>
<path d="M54.0,389.0 L54.1,387.2 L54.2,385.5 L54.3,383.7 L54.5,382.0 L54.6,380.2 L54.7,378.4 L54.8,376.7 L55.0,374.9 L55.1,373.2 L55.2,371.4 L55.3,369.7 L55.4,367.9 L55.6,366.1 L55.7,364.4 L55.8,362.6 L55.9,360.9 L56.0,359.1 L56.2,357.4 L56.3,355.6 L56.4,353.8 L56.5,352.1 L56.6,350.3 L56.7,348.6 L56.8,346.8 L56.9,345.1 L57.0,343.3 L57.2,341.5 L57.3,339.8 L57.4,338.0 L57.5,336.3 L57.6,334.5 L57.7,332.8 L57.8,331.0 L57.9,329.2 L58.0,327.5 L58.1,325.7 L58.2,324.0 L58.3,322.2 L58.4,320.4 L58.5,318.7 L58.6,316.9 L58.7,315.2 L58.8,313.4 L58.9,311.7 L59.0,309.9 L59.1,308.1 L59.2,306.4 L59.3,304.6 L59.4,302.9 L59.5,301.1 L59.6,299.3 L59.7,297.6 L59.8,295.8 L59.9,294.1 L60.0,292.3 L60.1,290.6 L60.2,288.8 L60.3,287.0 L60.4,285.3 L60.5,283.5 L60.6,281.8 L60.7,280.0 L60.8,278.2 L60.9,276.5 L61.0,274.7 L61.1,273.0 L61.2,271.2 L61.3,269.4 L61.4,267.7 L61.5,265.9 L61.6,264.2 L61.7,262.4 L61.8,260.7 L61.9,258.9 L62.0,257.1 L62.1,255.4 L62.2,253.6 L62.3,251.9 L62.4,250.1 L62.5,248.3 L62.6,246.6 L62.7,244.8 L62.8,243.1 L62.9,241.3 L63.0,239.6 L63.1,237.8 L63.2,236.0 L63.3,234.3 L63.4,232.5 L63.5,230.8 L63.6,229.0 L63.7,227.2 L63.8,225.5 L63.9,223.7 L64.0,222.0 L64.1,220.2 L64.2,218.5 L64.3,216.7 L64.4,214.9 L64.5,213.2 L64.6,211.4 L64.7,209.7 L64.8,207.9 L64.9,206.2 L65.0,204.4 L65.2,202.6 L65.3,200.9 L65.4,199.1 L65.5,197.4 L65.6,195.6 L65.7,193.8 L65.8,192.1 L65.9,190.3 L66.0,188.6 L66.2,186.8 L66.3,185.1 L66.4,183.3 L66.5,181.5 L66.6,179.8 L66.7,178.0 L66.9,176.3 L67.0,174.5 L67.1,172.8 L67.2,171.0 L67.3,169.3 L67.5,167.5 L67.6,165.7 L67.7,164.0 L67.8,162.2 L68.0,160.5 L68.1,158.7 L68.2,157.0 L68.3,155.2 L68.5,153.4 L68.6,151.7 L68.7,149.9 L68.9,148.2 L69.0,146.4 L69.1,144.7 L69.3,142.9 L69.4,141.2 L69.5,139.4 L69.7,137.6 L69.8,135.9 L69.9,134.1 L70.1,132.4 L70.2,130.6 L70.4,128.9 L70.5,127.1 L70.7,125.4 L70.8,123.6 L71.0,121.9 L71.1,120.1 L71.3,118.3 L71.4,116.6 L71.6,114.8 L71.7,113.1 L71.9,111.3 L72.0,109.6" stroke="#4a94cc" mask="url(#gap_ery)"/>
<mask id="gap_xyl" maskUnits="userSpaceOnUse" x="0" y="0" width="550" height="469"><rect width="550" height="469" fill="#fff"/><circle cx="93.62" cy="372.34" r="4.6" fill="#000"/><circle cx="111.42" cy="358.75" r="4.6" fill="#000"/><circle cx="138.90" cy="313.95" r="4.6" fill="#000"/><circle cx="179.44" cy="209.27" r="4.6" fill="#000"/><circle cx="241.16" cy="130.75" r="4.6" fill="#000"/><circle cx="331.26" cy="70.36" r="4.6" fill="#000"/></mask>
<path d="M95.4,372.1 L96.9,370.3 L98.4,368.5 L99.9,366.7 L101.3,364.9 L102.8,363.0 L104.2,361.2 L105.7,359.3 L107.1,357.4 L108.5,355.5 L109.8,353.6 L111.2,351.7 L112.6,349.7 L113.9,347.7 L115.2,345.8 L116.6,343.8 L117.9,341.8 L119.1,339.7 L120.4,337.7 L121.7,335.7 L123.0,333.6 L124.2,331.5 L125.4,329.4 L126.7,327.3 L127.9,325.2 L129.1,323.1 L130.3,321.0 L131.5,318.9 L132.7,316.7 L133.8,314.5 L135.0,312.4 L136.1,310.2 L137.3,308.0 L138.4,305.8 L139.6,303.6 L140.7,301.4 L141.8,299.2 L142.9,297.0 L144.0,294.7 L145.2,292.5 L146.3,290.2 L147.3,288.0 L148.4,285.7 L149.5,283.5 L150.6,281.2 L151.7,278.9 L152.8,276.7 L153.8,274.4 L154.9,272.1 L156.0,269.8 L157.1,267.5 L158.1,265.3 L159.2,263.0 L160.3,260.7 L161.3,258.4 L162.4,256.1 L163.4,253.8 L164.5,251.5 L165.6,249.2 L166.6,246.9 L167.7,244.6 L168.8,242.3 L169.8,240.0 L170.9,237.7 L172.0,235.4 L173.1,233.1 L174.1,230.8 L175.2,228.5 L176.3,226.2 L177.4,224.0 L178.5,221.7 L179.6,219.4 L180.7,217.1 L181.8,214.9 L182.9,212.6 L184.0,210.4 L185.2,208.1 L186.3,205.9 L187.4,203.6 L188.6,201.4 L189.7,199.2 L190.9,196.9 L192.1,194.7 L193.2,192.5 L194.4,190.3 L195.6,188.1 L196.8,186.0 L198.0,183.8 L199.2,181.6 L200.5,179.5 L201.7,177.4 L203.0,175.2 L204.2,173.1 L205.5,171.0 L206.8,168.9 L208.1,166.8 L209.4,164.7 L210.7,162.7 L212.1,160.6 L213.4,158.6 L214.8,156.6 L216.1,154.6 L217.5,152.6 L218.9,150.6 L220.4,148.6 L221.8,146.7 L223.2,144.7 L224.7,142.8 L226.2,140.9 L227.7,139.0 L229.2,137.1 L230.7,135.3 L232.3,133.4 L233.8,131.6 L235.4,129.8 L237.0,128.0 L238.6,126.3 L240.2,124.5 L241.9,122.8 L243.6,121.1 L245.3,119.4 L247.0,117.7 L248.7,116.1 L250.4,114.4 L252.2,112.8 L254.0,111.2 L255.8,109.7 L257.7,108.1 L259.5,106.6 L261.4,105.1 L263.3,103.6 L265.2,102.2 L267.2,100.7 L269.1,99.3 L271.1,97.9 L273.2,96.6 L275.2,95.2 L277.3,93.9 L279.4,92.7 L281.5,91.4 L283.6,90.2 L285.8,89.0 L288.0,87.8 L290.2,86.6 L292.4,85.5 L294.7,84.4 L297.0,83.3 L299.3,82.3 L301.7,81.3 L304.1,80.3 L306.5,79.4 L308.9,78.4 L311.4,77.5 L313.9,76.7 L316.5,75.8 L319.0,75.0 L321.6,74.3 L324.2,73.5 L326.9,72.8 L329.6,72.1" stroke="#4a9a62" mask="url(#gap_xyl)"/>
<path d="M118.3,381.7 L121.1,381.5 L124.0,381.4 L126.8,381.2 L129.6,381.0 L132.5,380.9 L135.3,380.7 L138.2,380.5 L141.0,380.3 L143.9,380.1 L146.7,379.9 L149.5,379.7 L152.4,379.4 L155.2,379.2 L158.0,379.0 L160.9,378.7 L163.7,378.5 L166.5,378.2 L169.4,377.9 L172.2,377.7 L175.0,377.4 L177.8,377.1 L180.7,376.8 L183.5,376.5 L186.3,376.2 L189.1,375.8 L191.9,375.5 L194.8,375.2 L197.6,374.8 L200.4,374.5 L203.2,374.1 L206.0,373.7 L208.8,373.3 L211.6,372.9 L214.4,372.5 L217.3,372.1 L220.1,371.7 L222.9,371.3 L225.7,370.9 L228.5,370.4 L231.3,370.0 L234.0,369.5 L236.8,369.1 L239.6,368.6 L242.4,368.1 L245.2,367.6 L248.0,367.1 L250.8,366.6 L253.5,366.1 L256.3,365.6 L259.1,365.0 L261.9,364.5 L264.6,363.9 L267.4,363.3 L270.2,362.8 L272.9,362.2 L275.7,361.6 L278.4,361.0 L281.2,360.4 L284.0,359.7 L286.7,359.1 L289.5,358.5 L292.2,357.8 L294.9,357.2 L297.7,356.5 L300.4,355.8 L303.1,355.1 L305.9,354.4 L308.6,353.7 L311.3,353.0 L314.1,352.2 L316.8,351.5 L319.5,350.7 L322.2,350.0 L324.9,349.2 L327.6,348.4 L330.3,347.6 L333.0,346.8 L335.7,346.0 L338.4,345.2 L341.1,344.3 L343.8,343.5 L346.5,342.6 L349.2,341.7 L351.8,340.8 L354.5,340.0 L357.2,339.0 L359.8,338.1 L362.5,337.2 L365.2,336.3 L367.8,335.3 L370.5,334.4 L373.1,333.4 L375.8,332.4 L378.4,331.4 L381.0,330.4 L383.7,329.4 L386.3,328.4 L388.9,327.4 L391.6,326.3 L394.2,325.3 L396.8,324.2 L399.4,323.2 L402.0,322.1 L404.6,321.0 L407.3,319.9 L409.9,318.8 L412.5,317.7 L415.1,316.6 L417.7,315.5 L420.3,314.3 L422.8,313.2 L425.4,312.0 L428.0,310.9 L430.6,309.7 L433.2,308.6 L435.8,307.4 L438.3,306.2 L440.9,305.0 L443.5,303.8 L446.1,302.7 L448.6,301.4 L451.2,300.2 L453.8,299.0 L456.3,297.8 L458.9,296.6 L461.4,295.4 L464.0,294.1 L466.5,292.9 L469.1,291.6 L471.6,290.4 L474.2,289.1 L476.7,287.9 L479.3,286.6 L481.8,285.4 L484.4,284.1 L486.9,282.8 L489.4,281.6 L492.0,280.3 L494.5,279.0 L497.0,277.7 L499.6,276.5 L502.1,275.2 L504.6,273.9 L507.1,272.6 L509.7,271.3 L512.2,270.0 L514.7,268.7 L517.2,267.4 L519.8,266.1 L522.3,264.8 L524.8,263.5 L527.3,262.2 L529.8,260.9 L532.4,259.6 L534.9,258.3 L537.4,257.0 L539.9,255.7 L542.4,254.4 L544.9,253.1" stroke="#e8868c"/>
</g>
<text x="149.6" y="276.8" font-family="Liberation Sans, Arial, sans-serif" font-weight="bold" font-size="12.35" fill="#d9161d">Sweetness intensity of 10% w/v sucrose</text>
<rect x="49.7" y="9.96" width="495.55" height="402.64" fill="none" stroke="#000" stroke-width="1.5"/>
<path d="M49.70,412.60v-7M49.70,9.96v7M94.75,412.60v-3.8M94.75,9.96v3.8M139.80,412.60v-7M139.80,9.96v7M184.85,412.60v-3.8M184.85,9.96v3.8M229.90,412.60v-7M229.90,9.96v7M274.95,412.60v-3.8M274.95,9.96v3.8M320.00,412.60v-7M320.00,9.96v7M365.05,412.60v-3.8M365.05,9.96v3.8M410.10,412.60v-7M410.10,9.96v7M455.15,412.60v-3.8M455.15,9.96v3.8M500.20,412.60v-7M500.20,9.96v7M545.25,412.60v-3.8M545.25,9.96v3.8M49.70,412.60h7M545.25,412.60h-7M49.70,387.44h3.8M545.25,387.44h-3.8M49.70,362.27h7M545.25,362.27h-7M49.70,337.11h3.8M545.25,337.11h-3.8M49.70,311.94h7M545.25,311.94h-7M49.70,286.78h3.8M545.25,286.78h-3.8M49.70,261.61h7M545.25,261.61h-7M49.70,236.45h3.8M545.25,236.45h-3.8M49.70,211.28h7M545.25,211.28h-7M49.70,186.12h3.8M545.25,186.12h-3.8M49.70,160.95h7M545.25,160.95h-7M49.70,135.79h3.8M545.25,135.79h-3.8M49.70,110.62h7M545.25,110.62h-7M49.70,85.45h3.8M545.25,85.45h-3.8M49.70,60.29h7M545.25,60.29h-7M49.70,35.12h3.8M545.25,35.12h-3.8M49.70,9.96h7M545.25,9.96h-7" stroke="#000" stroke-width="1.3" fill="none"/>
<g font-family="Liberation Sans, Arial, sans-serif" font-size="15" fill="#000" stroke="#000" stroke-width="0.3">
<text x="49.70" y="433" text-anchor="middle">0</text>
<text x="139.80" y="433" text-anchor="middle">20</text>
<text x="229.90" y="433" text-anchor="middle">40</text>
<text x="320.00" y="433" text-anchor="middle">60</text>
<text x="410.10" y="433" text-anchor="middle">80</text>
<text x="500.20" y="433" text-anchor="middle">100</text>
<text x="41.4" y="417.10" text-anchor="end">0</text>
<text x="41.4" y="366.77" text-anchor="end">5</text>
<text x="41.4" y="316.44" text-anchor="end">10</text>
<text x="41.4" y="266.11" text-anchor="end">15</text>
<text x="41.4" y="215.78" text-anchor="end">20</text>
<text x="41.4" y="165.45" text-anchor="end">25</text>
<text x="41.4" y="115.12" text-anchor="end">30</text>
<text x="41.4" y="64.79" text-anchor="end">35</text>
<text x="41.4" y="14.46" text-anchor="end">40</text>
</g>
<text x="297.4" y="462.1" text-anchor="middle" font-family="Liberation Sans, Arial, sans-serif" font-size="18.8" fill="#000" stroke="#000" stroke-width="0.3">Calories (kcal/100 mL)</text>
<text transform="translate(16.9,211) rotate(-90)" x="0" y="0" text-anchor="middle" font-family="Liberation Sans, Arial, sans-serif" font-size="18.6" fill="#000" stroke="#000" stroke-width="0.3">Sweetness Intensity</text>
<g font-family="Liberation Sans, Arial, sans-serif" font-size="15" fill="#000" stroke="#000" stroke-width="0.3">
<rect x="394.30" y="192.40" width="8.2" height="8.2" fill="#000000"/>
<text x="419.6" y="201.60">Sucrose</text>
<polygon points="398.40,209.52 404.00,215.12 398.40,220.72 392.80,215.12" fill="#a80a0a"/>
<text x="419.6" y="220.22">SUC-ALL Mixture</text>
<circle cx="398.40" cy="233.74" r="3.7" fill="none" stroke="#0e716c" stroke-width="2.1"/>
<text x="419.6" y="238.84">Maltitol</text>
<circle cx="398.40" cy="252.36" r="4.7" fill="#f27f82"/>
<text x="419.6" y="257.46">Dextrose</text>
<polygon points="398.40,266.43 402.95,274.39 393.85,274.39" fill="none" stroke="#163f7a" stroke-width="1.8" stroke-linejoin="miter"/>
<text x="419.6" y="276.08">Sorbitol</text>
<polygon points="398.40,284.00 403.70,293.80 393.10,293.80" fill="#f47a3c"/>
<text x="419.6" y="294.70">Fructose</text>
<polygon points="398.40,312.77 402.95,304.81 393.85,304.81" fill="none" stroke="#86e6ec" stroke-width="1.8" stroke-linejoin="miter"/>
<text x="419.6" y="313.32">Mannitol</text>
<polygon points="398.40,332.44 403.70,322.64 393.10,322.64" fill="#f6b73c"/>
<text x="419.6" y="331.94">Allulose</text>
<polygon points="398.40,340.86 403.00,345.46 398.40,350.06 393.80,345.46" fill="none" stroke="#1a76b8" stroke-width="2.1"/>
<text x="419.6" y="350.56">Erythritol</text>
<polygon points="393.85,364.08 401.81,359.53 401.81,368.63" fill="none" stroke="#1b7d3c" stroke-width="1.8" stroke-linejoin="miter"/>
<text x="419.6" y="369.18">Xylitol</text>
<polygon points="404.00,382.70 394.20,377.60 394.20,387.80" fill="#ef4a52"/>
<text x="419.6" y="387.80">Palatinose</text>
</g>
</svg>
</body></html>
